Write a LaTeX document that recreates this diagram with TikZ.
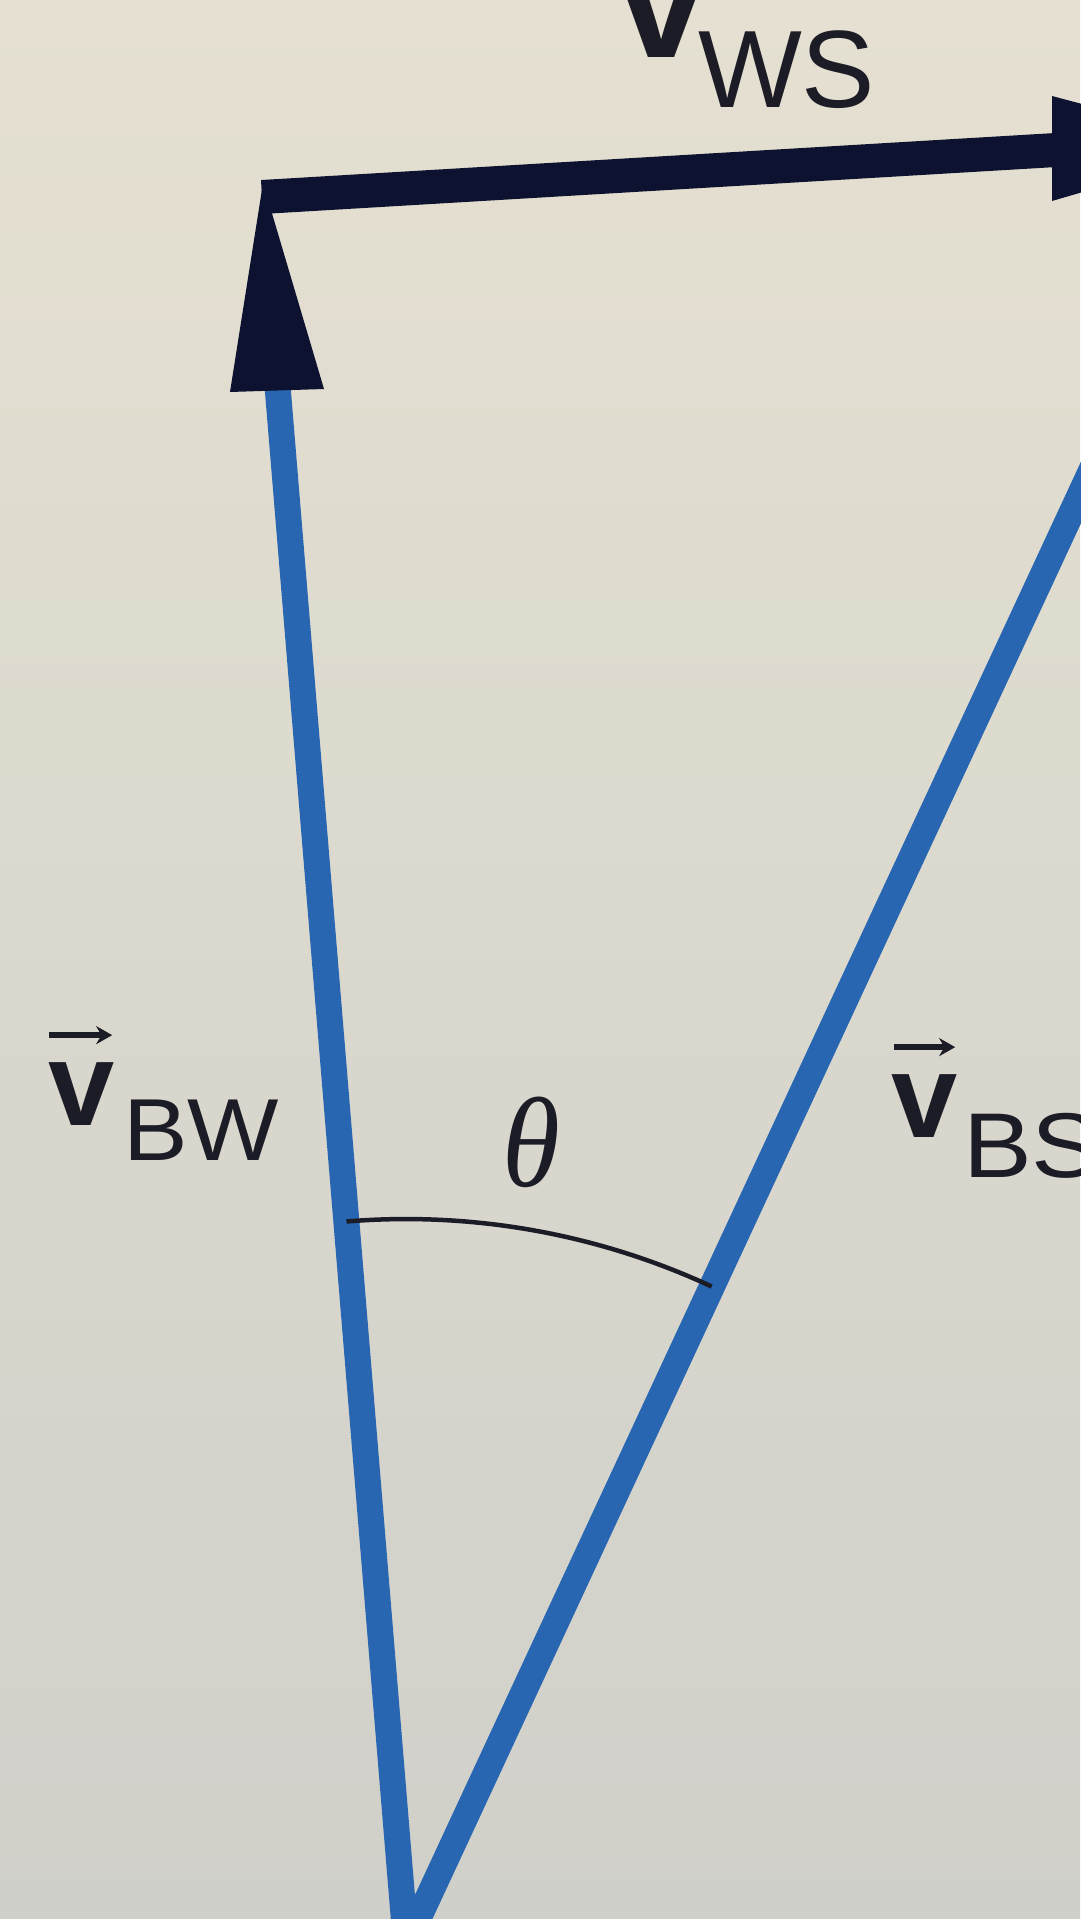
\documentclass[tikz,border=0pt]{standalone}
\usepackage{fontspec}
\setmainfont{Liberation Sans}
\newfontfamily\thetafont{Liberation Serif}
\usetikzlibrary{arrows.meta}
\definecolor{bgtop}{RGB}{229,224,209}
\definecolor{bgmid}{RGB}{225,224,213}
\definecolor{bgbot}{RGB}{208,208,202}
\definecolor{vecblue}{RGB}{40,102,178}
\definecolor{navy}{RGB}{12,18,48}
\definecolor{ink}{RGB}{28,28,38}
\tikzset{
  bluevec/.style={draw=vecblue, line width=26, line cap=butt},
  navyvec/.style={draw=navy, line width=34, line cap=butt},
  headfill/.style={fill=navy},
  anglearc/.style={draw=ink, line width=4.5},
  lbl/.style={inner sep=0, outer sep=0, text=ink, anchor=base west},
  overarrow/.style={draw=ink, line width=6, -{Stealth[length=16,width=18]}},
}
\begin{document}
\begin{tikzpicture}[x=1pt,y=-1pt]
\useasboundingbox (0,0) rectangle (1080,1919);
\shade[top color=bgtop, middle color=bgmid, bottom color=bgbot] (0,0) rectangle (1080,1919);

% key points
\coordinate (V) at (406,1945);
\coordinate (BWbase) at (277,380);
\coordinate (BWtip) at (263,183);
\coordinate (BSend) at (1110,430);
\coordinate (WSstart) at (262,197);
\coordinate (WSend) at (1056,150);

% v_BS
\draw[bluevec] (V) -- (BSend);
% v_BW shaft
\draw[bluevec] (V) -- (BWbase);
% v_BW head
\fill[headfill] (BWtip) -- (230,392) -- (324,389) -- cycle;
% v_WS
\draw[navyvec] (WSstart) -- (WSend);
\fill[headfill] (1052,96) -- (1052,201) -- (1240,146) -- cycle;

% angle arc theta (centred at V)
\draw[anglearc] (V) ++(-94.7:726) arc[start angle=-94.7, end angle=-65.1, radius=726];
\node[inner sep=0, text=ink, anchor=base, xscale=0.92] (theta) at (531,1186) {\fontsize{128}{128}\thetafont\itshape θ};

% labels
\node[lbl, font=\fontsize{119}{119}\selectfont\bfseries] (vbw) at (48,1125) {v};
\node[lbl, font=\fontsize{88}{88}\selectfont, xscale=1.1] (sbw) at (123,1160) {BW};
\draw[overarrow] ([xshift=1,yshift=27]vbw.north west) -- ([xshift=-2,yshift=27]vbw.north east);

\node[lbl, font=\fontsize{119}{119}\selectfont\bfseries] (vbs) at (891,1137) {v};
\node[lbl, font=\fontsize{92}{92}\selectfont, xscale=1.12] (sbs) at (963,1177) {BS};
\draw[overarrow] ([xshift=3,yshift=27]vbs.north west) -- ([xshift=-2,yshift=27]vbs.north east);

\node[lbl, font=\fontsize{160}{160}\selectfont\bfseries] (vws) at (617,58) {v};
\node[lbl, font=\fontsize{110}{110}\selectfont] (sws) at (698,107) {WS};
\draw[overarrow] ([xshift=3,yshift=30]vws.north west) -- ([xshift=-2,yshift=30]vws.north east);
\end{tikzpicture}
\end{document}
